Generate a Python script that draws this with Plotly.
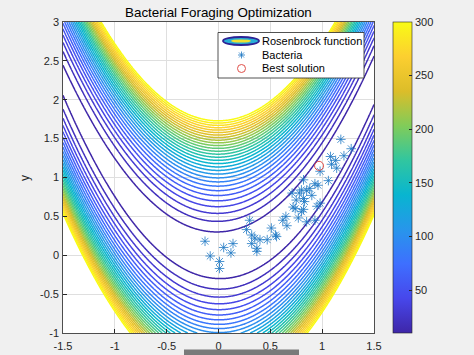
import numpy as np
import plotly.graph_objects as go

# ---------------- data ----------------
x_limits = [-1.5, 1.5]
y_limits = [-1, 3]
x_ticks = [-1.5, -1, -0.5, 0, 0.5, 1, 1.5]
x_tick_labels = ['-1.5', '-1', '-0.5', '0', '0.5', '1', '1.5']
y_ticks = [-1, -0.5, 0, 0.5, 1, 1.5, 2, 2.5, 3]
y_tick_labels = ['-1', '-0.5', '0', '0.5', '1', '1.5', '2', '2.5', '3']
cbar_ticks = [50, 100, 150, 200, 250, 300]
cbar_tick_labels = ['50', '100', '150', '200', '250', '300']
level_start, level_end, level_step = 10, 300, 10

bacteria_x = [1.18, 1.28, 1.21, 1.08, 1.13, 1.09, 1.14, 0.98, 1.06, 0.93,
              0.82, 0.96, 0.88, 0.85, 0.80, 0.78, 0.90, 0.71, 0.75, 0.82,
              0.83, 0.74, 0.80, 0.82, 0.95, 0.98, 0.93, 0.85, 0.77, 0.65,
              0.62, 0.66, 0.51, 0.55, 0.56, 0.47, 0.40, 0.32, 0.35, 0.30,
              0.27, 0.32, 0.37, 0.37, 0.14, 0.05, 0.12, -0.13, -0.08, 0.01,
              0.01, 0.72]
bacteria_y = [1.49, 1.37, 1.28, 1.27, 1.22, 1.17, 1.12, 1.08, 0.96, 0.92,
              0.97, 0.90, 0.86, 0.83, 0.84, 0.80, 0.77, 0.80, 0.71, 0.73,
              0.69, 0.60, 0.56, 0.59, 0.63, 0.67, 0.45, 0.43, 0.48, 0.50,
              0.45, 0.38, 0.35, 0.26, 0.24, 0.20, 0.20, 0.26, 0.22, 0.45,
              0.33, 0.15, 0.09, 0.05, 0.15, 0.10, 0.03, 0.18, -0.01, -0.08,
              -0.17, 0.62]
best_x = [0.97]
best_y = [1.15]

grid_x = np.linspace(x_limits[0], x_limits[1], 361)
grid_y = np.linspace(y_limits[0], y_limits[1], 481)
GX, GY = np.meshgrid(grid_x, grid_y)
GZ = (1 - GX) ** 2 + 100 * (GY - GX ** 2) ** 2

# ---------------- styling ----------------
parula_rgb = [(62, 38, 168), (71, 71, 235), (62, 111, 255), (39, 150, 235), (8, 181, 208),
              (49, 198, 159), (129, 204, 89), (220, 189, 41), (252, 207, 48), (249, 251, 21)]
parula = [[i / (len(parula_rgb) - 1), f'rgb{c}'] for i, c in enumerate(parula_rgb)]

FONT = 'Liberation Sans, Arial, sans-serif'
W, H = 474, 355
L, R, T, B = 63, 374, 22, 333  # plot area in pixels


def px_x(p):
    return (p - L) / (R - L)


def px_y(p):
    return (B - p) / (B - T)


fig = go.Figure()

fig.add_trace(go.Contour(
    x=grid_x, y=grid_y, z=GZ,
    autocontour=False,
    contours=dict(start=level_start, end=level_end, size=level_step, coloring='lines'),
    colorscale=parula, zmin=level_start, zmax=level_end, zauto=False,
    line=dict(width=1.5),
    showscale=False, showlegend=False, hoverinfo='skip',
))

# dummy trace providing a continuous colorbar
fig.add_trace(go.Scatter(
    x=[None], y=[None], mode='markers', showlegend=False,
    marker=dict(color=[level_start], cmin=level_start, cmax=level_end,
                colorscale=parula, showscale=True,
                colorbar=dict(x=px_x(393), xanchor='left', xpad=0,
                              y=0.5, yanchor='middle', len=1, lenmode='fraction', ypad=0,
                              thickness=19, outlinewidth=0.6, outlinecolor='#262626',
                              tickvals=cbar_ticks, ticktext=cbar_tick_labels,
                              ticks='inside', ticklen=3, tickcolor='#262626',
                              tickfont=dict(family=FONT, size=11, color='#262626'))),
))

fig.add_trace(go.Scatter(
    x=bacteria_x, y=bacteria_y, mode='markers', showlegend=False,
    marker=dict(symbol='asterisk-open', size=8, color='#1F78C4',
                line=dict(color='#1F78C4', width=0.8)),
))
fig.add_trace(go.Scatter(
    x=best_x, y=best_y, mode='markers', showlegend=False,
    marker=dict(symbol='circle-open', size=9, color='#E0504A',
                line=dict(color='#E0504A', width=1)),
))

axis_common = dict(showgrid=True, gridcolor='#DFDFDF', gridwidth=1, zeroline=False,
                   showline=True, linecolor='#262626', linewidth=0.8, mirror=True,
                   ticks='inside', ticklen=4, tickcolor='#262626',
                   tickfont=dict(family=FONT, size=11, color='#262626'))

fig.update_layout(
    width=W, height=H,
    margin=dict(l=L, r=W - R, t=T, b=H - B, pad=0, autoexpand=False),
    paper_bgcolor='#F0F0F0', plot_bgcolor='white',
    xaxis=dict(range=x_limits, tickvals=x_ticks, ticktext=x_tick_labels,
               ticklabelstandoff=3, **axis_common),
    yaxis=dict(range=y_limits, tickvals=y_ticks, ticktext=y_tick_labels,
               ticklabelstandoff=1, **axis_common),
    showlegend=False,
)

ann = []
ann.append(dict(text='Bacterial Foraging Optimization', x=0.5, y=px_y(12.5), xref='paper', yref='paper',
                showarrow=False, xanchor='center', yanchor='middle',
                font=dict(family=FONT, size=13.4, color='black')))
ann.append(dict(text='y', x=px_x(25), y=px_y(178), xref='paper', yref='paper', textangle=-90,
                showarrow=False, xanchor='center', yanchor='middle',
                font=dict(family=FONT, size=12, color='#262626')))

shapes = []
# legend box
shapes.append(dict(type='rect', xref='paper', yref='paper',
                   x0=px_x(218), x1=px_x(364), y0=px_y(78), y1=px_y(32.5),
                   fillcolor='white', line=dict(color='#262626', width=0.8)))
# contour legend icon (nested ellipses)
shapes.append(dict(type='circle', xref='paper', yref='paper',
                   x0=px_x(223), x1=px_x(259), y0=px_y(45), y1=px_y(37),
                   fillcolor='rgb(40,175,215)', line=dict(color='rgb(45,35,150)', width=1.8)))
shapes.append(dict(type='circle', xref='paper', yref='paper',
                   x0=px_x(231), x1=px_x(251), y0=px_y(42.6), y1=px_y(39.4),
                   fillcolor='rgb(240,225,50)', line=dict(width=0)))
# asterisk legend icon
cx, cy, r = 241.5, 55, 3.5
d = r * 0.72
ast_path = (f'M {px_x(cx - r)} {px_y(cy)} L {px_x(cx + r)} {px_y(cy)} '
            f'M {px_x(cx)} {px_y(cy - r)} L {px_x(cx)} {px_y(cy + r)} '
            f'M {px_x(cx - d)} {px_y(cy - d)} L {px_x(cx + d)} {px_y(cy + d)} '
            f'M {px_x(cx - d)} {px_y(cy + d)} L {px_x(cx + d)} {px_y(cy - d)}')
shapes.append(dict(type='path', xref='paper', yref='paper', path=ast_path,
                   line=dict(color='#1F78C4', width=0.8)))
# circle legend icon
shapes.append(dict(type='circle', xref='paper', yref='paper',
                   x0=px_x(237.5), x1=px_x(245.5), y0=px_y(72.5), y1=px_y(64.5),
                   line=dict(color='#E0504A', width=1)))
# gray bar at bottom of the image
shapes.append(dict(type='rect', xref='paper', yref='paper',
                   x0=px_x(184), x1=px_x(299), y0=px_y(355), y1=px_y(349.5),
                   fillcolor='#7A7A7A', line=dict(width=0)))

for label, yy in [('Rosenbrock function', 41), ('Bacteria', 55), ('Best solution', 68.5)]:
    ann.append(dict(text=label, x=px_x(260), y=px_y(yy), xref='paper', yref='paper',
                    showarrow=False, xanchor='left', yanchor='middle',
                    font=dict(family=FONT, size=11, color='black')))

fig.update_layout(annotations=ann, shapes=shapes)
fig.write_html('out.html',
               config={'displayModeBar': False, 'staticPlot': True},
               post_script="document.body.style.margin='0';document.body.style.padding='0';"
                           "document.body.style.overflow='hidden';")
